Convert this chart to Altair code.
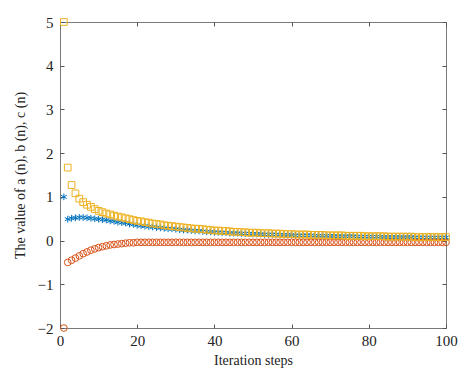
import altair as alt
import pandas as pd

steps = list(range(1, 101))

a_vals = [1.00, 0.49, 0.51, 0.52, 0.53, 0.53, 0.52, 0.51, 0.50, 0.49,
          0.48, 0.47, 0.45, 0.44, 0.42, 0.41, 0.40, 0.38, 0.37, 0.35,
          0.34, 0.33, 0.32, 0.31, 0.30, 0.29, 0.28, 0.27, 0.27, 0.26,
          0.25, 0.24, 0.24, 0.23, 0.22, 0.22, 0.21, 0.20, 0.20, 0.19,
          0.19, 0.18, 0.18, 0.17, 0.17, 0.17, 0.16, 0.16, 0.16, 0.15,
          0.15, 0.15, 0.14, 0.14, 0.14, 0.14, 0.13, 0.13, 0.13, 0.13,
          0.12, 0.12, 0.12, 0.12, 0.12, 0.11, 0.11, 0.11, 0.11, 0.11,
          0.10, 0.10, 0.10, 0.10, 0.10, 0.10, 0.09, 0.09, 0.09, 0.09,
          0.09, 0.09, 0.09, 0.08, 0.08, 0.08, 0.08, 0.08, 0.08, 0.08,
          0.08, 0.07, 0.07, 0.07, 0.07, 0.07, 0.07, 0.07, 0.07, 0.07]

b_vals = [-2.00, -0.50, -0.45, -0.40, -0.35, -0.30, -0.26, -0.22, -0.19, -0.16,
          -0.14, -0.12, -0.10, -0.09, -0.08, -0.07, -0.06, -0.05, -0.05, -0.04,
          -0.04, -0.04, -0.04, -0.04, -0.04, -0.04, -0.04, -0.04, -0.04, -0.04,
          -0.04, -0.04, -0.04, -0.04, -0.04, -0.04, -0.04, -0.04, -0.04, -0.04,
          -0.04, -0.04, -0.04, -0.04, -0.04, -0.04, -0.04, -0.04, -0.04, -0.04,
          -0.04, -0.04, -0.04, -0.04, -0.04, -0.04, -0.04, -0.04, -0.04, -0.04,
          -0.04, -0.04, -0.04, -0.04, -0.04, -0.04, -0.04, -0.04, -0.04, -0.04,
          -0.04, -0.04, -0.04, -0.04, -0.04, -0.04, -0.04, -0.04, -0.04, -0.04,
          -0.04, -0.04, -0.04, -0.04, -0.04, -0.04, -0.04, -0.04, -0.04, -0.04,
          -0.04, -0.04, -0.04, -0.04, -0.04, -0.04, -0.04, -0.04, -0.04, -0.04]

c_vals = [5.00, 1.67, 1.27, 1.08, 0.96, 0.88, 0.82, 0.77, 0.72, 0.68,
          0.65, 0.62, 0.60, 0.57, 0.55, 0.53, 0.51, 0.49, 0.47, 0.45,
          0.44, 0.42, 0.41, 0.39, 0.38, 0.37, 0.35, 0.34, 0.33, 0.32,
          0.31, 0.30, 0.29, 0.28, 0.27, 0.27, 0.26, 0.25, 0.24, 0.23,
          0.23, 0.22, 0.22, 0.21, 0.20, 0.20, 0.19, 0.19, 0.18, 0.18,
          0.18, 0.17, 0.17, 0.17, 0.16, 0.16, 0.16, 0.15, 0.15, 0.15,
          0.14, 0.14, 0.14, 0.14, 0.13, 0.13, 0.13, 0.13, 0.12, 0.12,
          0.12, 0.12, 0.12, 0.11, 0.11, 0.11, 0.11, 0.11, 0.10, 0.10,
          0.10, 0.10, 0.10, 0.10, 0.09, 0.09, 0.09, 0.09, 0.09, 0.09,
          0.09, 0.08, 0.08, 0.08, 0.08, 0.08, 0.08, 0.08, 0.08, 0.08]

series_names = ["a", "b", "c"]
series_colors = ["#0072BD", "#D95319", "#EDB120"]
asterisk = "M0,-1L0,1M-0.87,-0.5L0.87,0.5M-0.87,0.5L0.87,-0.5"
series_shapes = [asterisk, "circle", "square"]

x_ticks = [0, 20, 40, 60, 80, 100]
y_ticks = [-2, -1, 0, 1, 2, 3, 4, 5]

rows = []
for name, vals in zip(series_names, [a_vals, b_vals, c_vals]):
    for n, v in zip(steps, vals):
        rows.append({"n": n, "value": v, "series": name})
df = pd.DataFrame(rows)

W, H = 386, 306
FONT = "Liberation Serif"
xs = alt.Scale(domain=[0, 100], nice=False)
ys = alt.Scale(domain=[-2, 5], nice=False)

pts = alt.Chart(df).mark_point(filled=False, size=45, strokeWidth=1, opacity=1).encode(
    x=alt.X("n:Q", scale=xs, axis=alt.Axis(
        orient="top", offset=-H, values=x_ticks, tickSize=4, domain=False, grid=False,
        labelPadding=-9, labelBaseline="top", labelAlign="center",
        title="Iteration steps", titleY=32, titleBaseline="middle")),
    y=alt.Y("value:Q", scale=ys, axis=alt.Axis(
        orient="right", offset=-W, values=y_ticks, tickSize=4, domain=False, grid=False,
        labelPadding=-11, labelAlign="right", labelBaseline="middle",
        title="The value of a (n), b (n), c (n)", titleAngle=270, titleX=-40,
        titleBaseline="middle")),
    color=alt.Color("series:N", scale=alt.Scale(domain=series_names, range=series_colors), legend=None),
    shape=alt.Shape("series:N", scale=alt.Scale(domain=series_names, range=series_shapes), legend=None),
)

mirror = alt.Chart(df).mark_point(opacity=0).encode(
    x=alt.X("n:Q", scale=xs, axis=alt.Axis(
        orient="bottom", offset=-H, values=x_ticks, tickSize=4, labels=False,
        domain=False, grid=False, title=None)),
    y=alt.Y("value:Q", scale=ys, axis=alt.Axis(
        orient="left", offset=-W, values=y_ticks, tickSize=4, labels=False,
        domain=False, grid=False, title=None)),
)

chart = alt.layer(mirror, pts).resolve_axis(x="independent", y="independent").properties(
    width=W, height=H,
    autosize=alt.AutoSizeParams(type="none"),
    padding={"left": 52, "top": 14, "right": 20, "bottom": 51},
).configure_view(stroke="#7a7a7a", strokeWidth=1).configure_axis(
    labelFont=FONT, titleFont=FONT, labelFontSize=15, titleFontSize=14,
    titleFontWeight="normal", tickColor="#555555", labelColor="#222222",
    titleColor="#222222",
)

chart.save("out.html", embed_options={"renderer": "svg", "actions": False})
